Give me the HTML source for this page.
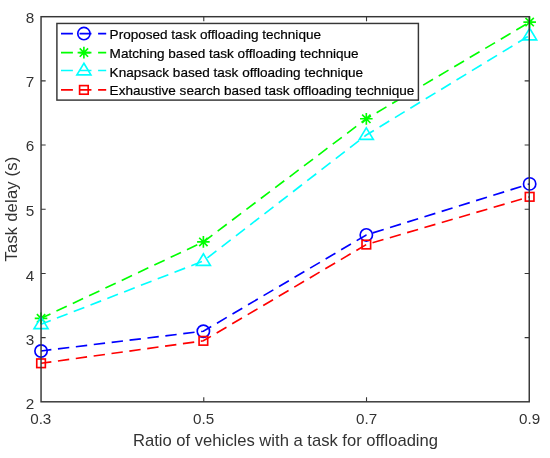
<!DOCTYPE html>
<html><head><meta charset="utf-8"><title>Task delay plot</title>
<style>html,body{margin:0;padding:0;background:#fff;}svg{display:block;}text{font-family:"Liberation Sans",Arial,Helvetica,sans-serif;}</style></head>
<body>
<svg width="550" height="458" viewBox="0 0 550 458">
<rect width="550" height="458" fill="#ffffff"/>
<polyline points="41.05,350.95 203.38,331.20 366.32,234.92 529.65,183.88" fill="none" stroke="#0000ff" stroke-width="1.65" stroke-dasharray="11.4 6.63" stroke-dashoffset="1.0"/>
<circle cx="41.05" cy="350.95" r="6.15" fill="none" stroke="#0000ff" stroke-width="1.65"/>
<circle cx="203.38" cy="331.20" r="6.15" fill="none" stroke="#0000ff" stroke-width="1.65"/>
<circle cx="366.32" cy="234.92" r="6.15" fill="none" stroke="#0000ff" stroke-width="1.65"/>
<circle cx="529.65" cy="183.88" r="6.15" fill="none" stroke="#0000ff" stroke-width="1.65"/>
<polyline points="41.05,318.36 203.38,241.94 366.32,118.79 529.65,22.12" fill="none" stroke="#00ff00" stroke-width="1.65" stroke-dasharray="11.4 6.63" stroke-dashoffset="1.0"/>
<path d="M34.75 318.36 H47.35 M41.05 312.46 V324.26 M36.88 314.19 L45.22 322.53 M36.88 322.53 L45.22 314.19" fill="none" stroke="#00ff00" stroke-width="1.65"/>
<path d="M197.08 241.94 H209.68 M203.38 236.04 V247.84 M199.21 237.77 L207.56 246.11 M199.21 246.11 L207.56 237.77" fill="none" stroke="#00ff00" stroke-width="1.65"/>
<path d="M360.02 118.79 H372.62 M366.32 112.89 V124.69 M362.14 114.62 L370.49 122.97 M362.14 122.97 L370.49 114.62" fill="none" stroke="#00ff00" stroke-width="1.65"/>
<path d="M523.35 22.12 H535.95 M529.65 16.22 V28.02 M525.48 17.95 L533.82 26.29 M525.48 26.29 L533.82 17.95" fill="none" stroke="#00ff00" stroke-width="1.65"/>
<polyline points="41.05,324.28 203.38,261.00 366.32,135.04 529.65,35.45" fill="none" stroke="#00ffff" stroke-width="1.65" stroke-dasharray="11.4 6.63" stroke-dashoffset="1.0"/>
<path d="M41.05 317.08 L48.05 328.68 L34.05 328.68 Z" fill="none" stroke="#00ffff" stroke-width="1.65"/>
<path d="M203.38 253.80 L210.38 265.40 L196.38 265.40 Z" fill="none" stroke="#00ffff" stroke-width="1.65"/>
<path d="M366.32 127.84 L373.32 139.44 L359.32 139.44 Z" fill="none" stroke="#00ffff" stroke-width="1.65"/>
<path d="M529.65 28.25 L536.65 39.85 L522.65 39.85 Z" fill="none" stroke="#00ffff" stroke-width="1.65"/>
<polyline points="41.05,363.29 203.38,340.83 366.32,244.55 529.65,196.81" fill="none" stroke="#ff0000" stroke-width="1.65" stroke-dasharray="11.4 6.63" stroke-dashoffset="1.0"/>
<rect x="36.75" y="358.99" width="8.6" height="8.6" fill="none" stroke="#ff0000" stroke-width="1.65"/>
<rect x="199.08" y="336.53" width="8.6" height="8.6" fill="none" stroke="#ff0000" stroke-width="1.65"/>
<rect x="362.02" y="240.25" width="8.6" height="8.6" fill="none" stroke="#ff0000" stroke-width="1.65"/>
<rect x="525.35" y="192.51" width="8.6" height="8.6" fill="none" stroke="#ff0000" stroke-width="1.65"/>
<rect x="41.05" y="16.7" width="488.20" height="385.10" fill="none" stroke="#363636" stroke-width="1.45"/>
<path d="M203.78 401.8 v-4.6 M203.78 16.7 v4.6 M366.52 401.8 v-4.6 M366.52 16.7 v4.6 M41.05 337.62 h4.6 M529.25 337.62 h-4.6 M41.05 273.43 h4.6 M529.25 273.43 h-4.6 M41.05 209.25 h4.6 M529.25 209.25 h-4.6 M41.05 145.07 h4.6 M529.25 145.07 h-4.6 M41.05 80.88 h4.6 M529.25 80.88 h-4.6" fill="none" stroke="#363636" stroke-width="1.1"/>
<text x="34.2" y="409.1" font-size="15.3" fill="#333" text-anchor="end">2</text>
<text x="34.2" y="344.9" font-size="15.3" fill="#333" text-anchor="end">3</text>
<text x="34.2" y="280.6" font-size="15.3" fill="#333" text-anchor="end">4</text>
<text x="34.2" y="215.6" font-size="15.3" fill="#333" text-anchor="end">5</text>
<text x="34.2" y="150.8" font-size="15.3" fill="#333" text-anchor="end">6</text>
<text x="34.2" y="87.2" font-size="15.3" fill="#333" text-anchor="end">7</text>
<text x="34.2" y="22.8" font-size="15.3" fill="#333" text-anchor="end">8</text>
<text x="40.75" y="423.8" font-size="15.2" fill="#333" text-anchor="middle">0.3</text>
<text x="203.68" y="423.8" font-size="15.2" fill="#333" text-anchor="middle">0.5</text>
<text x="366.62" y="423.8" font-size="15.2" fill="#333" text-anchor="middle">0.7</text>
<text x="529.55" y="423.8" font-size="15.2" fill="#333" text-anchor="middle">0.9</text>
<text x="285.5" y="445.8" font-size="16.6" fill="#333" text-anchor="middle">Ratio of vehicles with a task for offloading</text>
<text transform="translate(16.6 209.1) rotate(-90)" font-size="16.5" fill="#333" text-anchor="middle" textLength="104.8" lengthAdjust="spacing">Task delay (s)</text>
<rect x="56.9" y="23.45" width="361.50" height="76.65" fill="#fff" stroke="#363636" stroke-width="1.45"/>
<path d="M61 33.6 H106.2" stroke="#0000ff" stroke-width="1.65" stroke-dasharray="11.9 6.65" fill="none"/>
<circle cx="83.90" cy="33.60" r="6.15" fill="none" stroke="#0000ff" stroke-width="1.65"/>
<text x="109.6" y="39.3" font-size="13.56" fill="#000" stroke="#000" stroke-width="0.2">Proposed task offloading technique</text>
<path d="M61 52.6 H106.2" stroke="#00ff00" stroke-width="1.65" stroke-dasharray="11.9 6.65" fill="none"/>
<path d="M77.60 52.60 H90.20 M83.90 46.70 V58.50 M79.73 48.43 L88.07 56.77 M79.73 56.77 L88.07 48.43" fill="none" stroke="#00ff00" stroke-width="1.65"/>
<text x="109.6" y="57.7" font-size="13.56" fill="#000" stroke="#000" stroke-width="0.2">Matching based task offloading technique</text>
<path d="M61 70.5 H106.2" stroke="#00ffff" stroke-width="1.65" stroke-dasharray="11.9 6.65" fill="none"/>
<path d="M83.90 63.30 L90.90 74.90 L76.90 74.90 Z" fill="none" stroke="#00ffff" stroke-width="1.65"/>
<text x="109.6" y="76.7" font-size="13.56" fill="#000" stroke="#000" stroke-width="0.2">Knapsack based task offloading technique</text>
<path d="M61 89.9 H106.2" stroke="#ff0000" stroke-width="1.65" stroke-dasharray="11.9 6.65" fill="none"/>
<rect x="79.60" y="85.60" width="8.6" height="8.6" fill="none" stroke="#ff0000" stroke-width="1.65"/>
<text x="109.6" y="94.6" font-size="13.56" fill="#000" stroke="#000" stroke-width="0.2">Exhaustive search based task offloading technique</text>
</svg>
</body></html>
